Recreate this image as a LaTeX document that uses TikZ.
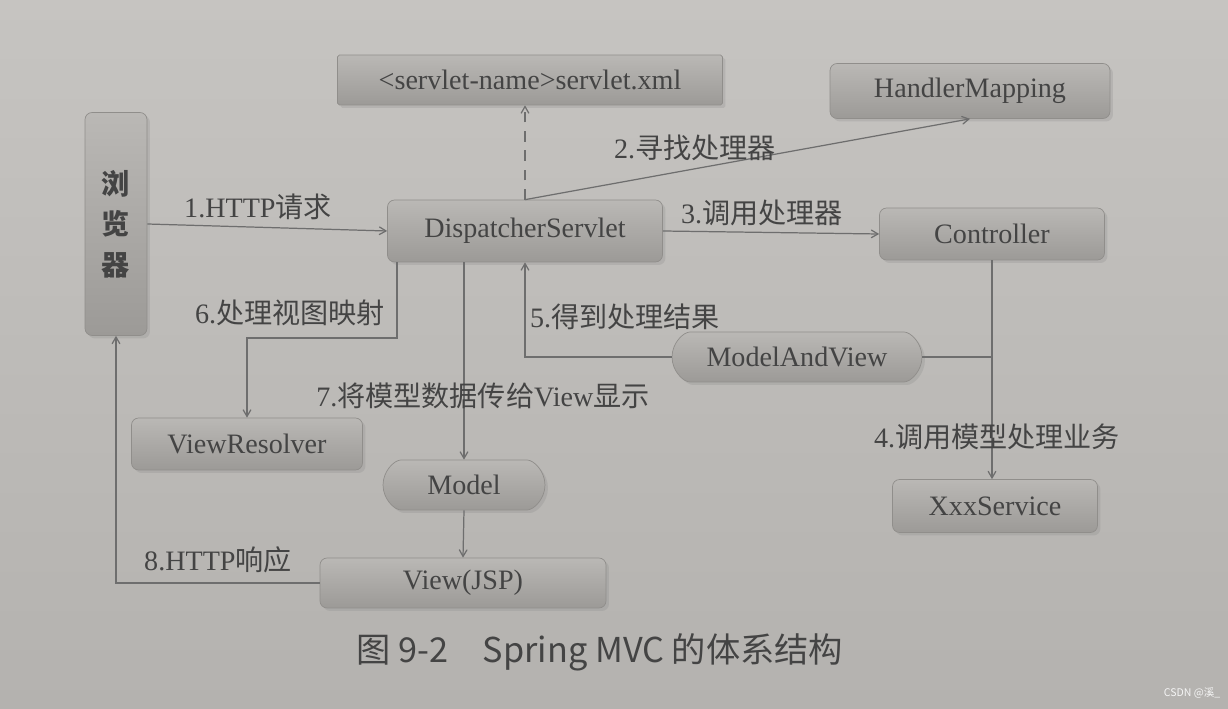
\documentclass[tikz,border=0pt]{standalone}
\usepackage{fontspec}
\setmainfont{Liberation Serif}
\newfontfamily\cjk{Noto Sans CJK SC}
\usetikzlibrary{arrows,shapes.misc,shadows}

\definecolor{paper}{RGB}{198,196,193}
\definecolor{paperlow}{RGB}{180,178,175}
\definecolor{boxtop}{RGB}{186,184,181}
\definecolor{boxbot}{RGB}{156,154,151}
\definecolor{ink}{RGB}{68,68,68}
\definecolor{wire}{RGB}{110,110,110}

\newcommand{\zh}[1]{{\cjk #1}}

\begin{document}
\begin{tikzpicture}[x=0.02cm,y=-0.02cm,
    box/.style={rectangle,rounded corners=4pt,top color=boxtop,bottom color=boxbot,
      draw=boxbot!92!black,line width=0.4pt,text=ink,inner sep=0pt,
      font=\fontsize{16}{19}\selectfont,
      drop shadow={opacity=0.22,shadow xshift=0.6mm,shadow yshift=-0.6mm}},
    pill/.style={box,rounded rectangle},
    lbl/.style={text=ink,inner sep=0pt,font=\fontsize{16}{19}\selectfont},
    wire/.style={draw=wire,line width=0.7pt,>=angle 60}]
    \useasboundingbox (0,0) rectangle (1228,709);
    \path[top color=paper,bottom color=paperlow] (0,0) rectangle (1228,709);

    \node[box,minimum width=1.24cm,minimum height=4.46cm,align=center,
      font=\cjk\bfseries\fontsize{16}{23}\selectfont] (B) at (116,224) {浏\\览\\器};
    \node[box,rounded corners=1pt,minimum width=7.7cm,minimum height=1.0cm] (XML) at (530,80) {<servlet-name>servlet.xml};
    \node[box,minimum width=5.6cm,minimum height=1.1cm] (HM) at (970,91) {HandlerMapping};
    \node[box,minimum width=5.5cm,minimum height=1.24cm] (DS) at (525,231) {DispatcherServlet};
    \node[box,minimum width=4.5cm,minimum height=1.04cm] (C) at (992,234) {Controller};
    \node[pill,minimum width=5.0cm,minimum height=1.0cm] (MAV) at (797,357) {ModelAndView};
    \node[box,minimum width=4.62cm,minimum height=1.04cm] (VR) at (247,444) {ViewResolver};
    \node[pill,minimum width=3.24cm,minimum height=1.0cm] (M) at (464,485) {Model};
    \node[box,minimum width=4.1cm,minimum height=1.06cm] (S) at (995,506) {XxxService};
    \node[box,minimum width=5.72cm,minimum height=1.0cm] (V) at (463,583) {View(JSP)};

    \coordinate (J) at (C.south |- MAV.east);
    \coordinate (D6) at (397,338);

    \draw[wire,->] (B.east) -- (DS.west);
    \draw[wire,->] (DS.north) -- (HM.south);
    \draw[wire,->,dash pattern=on 6pt off 5pt] (DS.north) -- (DS.north |- XML.south);
    \draw[wire,->] (DS.east) -- (C.west);
    \draw[wire,->] (C.south) -- (C.south |- S.north);
    \draw[wire] (J) -- (MAV.east);
    \draw[wire,->] (MAV.west) -| (DS.south);
    \draw[wire,->] (D6 |- DS.south) -- (D6) -| (VR.north);
    \draw[wire,->] (DS.south -| M.north) -- (M.north);
    \draw[wire,->] (M.south) -- (V.north);
    \draw[wire,->] (V.west) -| (B.south);

    \node[lbl] (L1) at (258,207) {1.HTTP\zh{请求}};
    \node[lbl] (L2) at (695,148) {2.\zh{寻找处理器}};
    \node[lbl] (L3) at (762,213) {3.\zh{调用处理器}};
    \node[lbl] (L4) at (997,437) {4.\zh{调用模型处理业务}};
    \node[lbl] (L5) at (625,317) {5.\zh{得到处理结果}};
    \node[lbl] (L6) at (290,313) {6.\zh{处理视图映射}};
    \node[lbl] (L7) at (483,396) {7.\zh{将模型数据传给}View\zh{显示}};
    \node[lbl] (L8) at (218,560) {8.HTTP\zh{响应}};

    \node[text=ink,font=\cjk\fontsize{19.5}{22}\selectfont] (cap) at (600,652) {图 9-2\quad Spring MVC 的体系结构};
    \node[text=white!92!gray,font=\cjk\fontsize{6}{7}\selectfont] (wm) at (1192,693) {CSDN @溪\_};
\end{tikzpicture}
\end{document}
